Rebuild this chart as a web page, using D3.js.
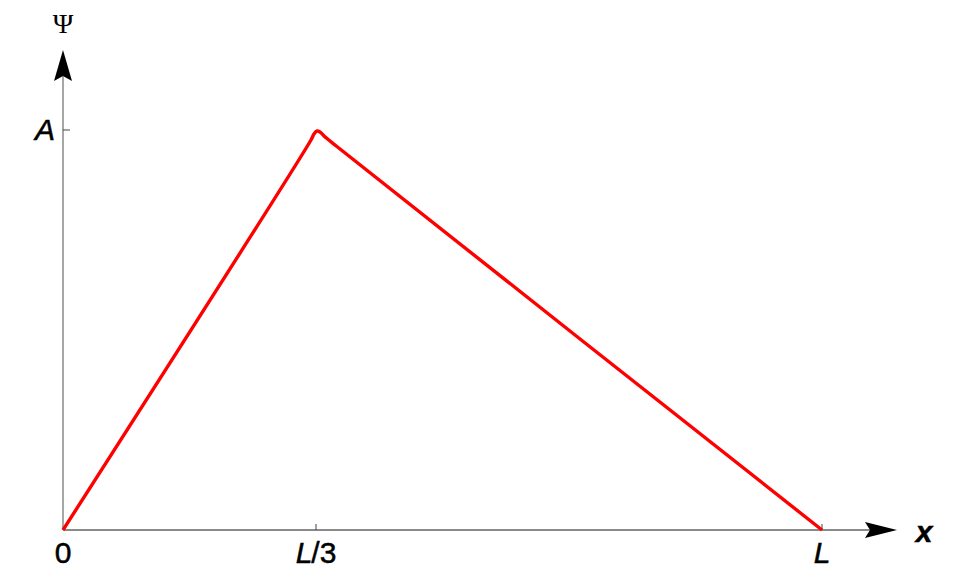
<!DOCTYPE html>
<html>
<head>
<meta charset="utf-8">
<script src="https://cdn.jsdelivr.net/npm/d3@7"></script>
<style>
  body { margin: 0; background: #fff; }
  svg { display: block; }
  .lab { font-family: "Liberation Sans", Arial, sans-serif; fill: #000; stroke: #000; stroke-width: 0.5; }
</style>
</head>
<body>
<div id="chart"></div>
<script>
// wave profile, x in units of L, psi in units of A
const xValues   = [0, 0.3267, 0.3307, 0.3347, 0.3386, 0.3439, 0.36, 1];
const psiValues = [0, 0.975, 0.99, 0.9975, 0.995, 0.985, 0.96, 0];

const xTicks = [0, 1 / 3, 1];
const xTickLabels = ["0", "L/3", "L"];
const yTicks = [1];
const yTickLabels = ["A"];

const W = 974, H = 588;
const svg = d3.select("#chart").append("svg")
    .attr("width", W).attr("height", H);

const x = d3.scaleLinear().domain([0, 1]).range([63, 822]);
const y = d3.scaleLinear().domain([0, 1]).range([530, 130]);

// axis lines
svg.append("line")
    .attr("x1", x(0)).attr("x2", 880)
    .attr("y1", y(0)).attr("y2", y(0))
    .attr("stroke", "#8a8a8a").attr("stroke-width", 1.8);
svg.append("line")
    .attr("x1", x(0)).attr("x2", x(0))
    .attr("y1", y(0)).attr("y2", 65)
    .attr("stroke", "#777").attr("stroke-width", 1.3);

// arrow heads
const ax = 897, ay = y(0);
svg.append("path")
    .attr("d", `M${ax},${ay} L${ax - 32},${ay - 8} L${ax - 27},${ay} L${ax - 32},${ay + 8} Z`)
    .attr("fill", "#000");
const bx = x(0), by = 50;
svg.append("path")
    .attr("d", `M${bx},${by} L${bx - 9},${by + 31} L${bx},${by + 26} L${bx + 9},${by + 31} Z`)
    .attr("fill", "#000");

// x ticks
const xt = svg.append("g");
xt.selectAll("line").data(xTicks.slice(1)).enter().append("line")
    .attr("x1", d => x(d)).attr("x2", d => x(d))
    .attr("y1", y(0)).attr("y2", y(0) - 6)
    .attr("stroke", "#444").attr("stroke-width", 1);
xt.selectAll("text").data(xTicks).enter().append("text")
    .attr("class", "lab")
    .attr("x", d => x(d)).attr("y", 563)
    .attr("text-anchor", "middle")
    .style("font-size", "30px")
    .each(function(d, i) {
        const lab = xTickLabels[i];
        const t = d3.select(this);
        if (lab.startsWith("L")) {
            t.append("tspan").style("font-style", "italic").text("L");
            if (lab.length > 1) t.append("tspan").attr("dx", -1).text(lab.slice(1));
        } else {
            t.text(lab);
        }
    });

// y ticks
const yt = svg.append("g");
yt.selectAll("line").data(yTicks).enter().append("line")
    .attr("x1", x(0)).attr("x2", x(0) + 7)
    .attr("y1", d => y(d)).attr("y2", d => y(d))
    .attr("stroke", "#444").attr("stroke-width", 1);
yt.selectAll("text").data(yTicks).enter().append("text")
    .attr("class", "lab")
    .attr("x", 45).attr("y", d => y(d) + 10)
    .attr("text-anchor", "middle")
    .style("font-size", "30px").style("font-style", "italic")
    .text((d, i) => yTickLabels[i]);

// axis labels
svg.append("text")
    .attr("class", "lab")
    .attr("x", 924).attr("y", 542)
    .attr("text-anchor", "middle")
    .style("font-size", "30px").style("font-style", "italic").style("font-weight", "bold")
    .text("x");
svg.append("text")
    .attr("x", 63).attr("y", 33)
    .attr("text-anchor", "middle")
    .style("font-family", "Liberation Serif, Times New Roman, serif")
    .style("font-size", "28px")
    .text("Ψ");

// curve
const pts = xValues.map((d, i) => [d, psiValues[i]]);
svg.append("path")
    .datum(pts)
    .attr("d", d3.line().x(d => x(d[0])).y(d => y(d[1])).curve(d3.curveCatmullRom.alpha(0.5)))
    .attr("fill", "none")
    .attr("stroke", "#ff0000")
    .attr("stroke-width", 3.4)
    .attr("stroke-linejoin", "round");
</script>
</body>
</html>
